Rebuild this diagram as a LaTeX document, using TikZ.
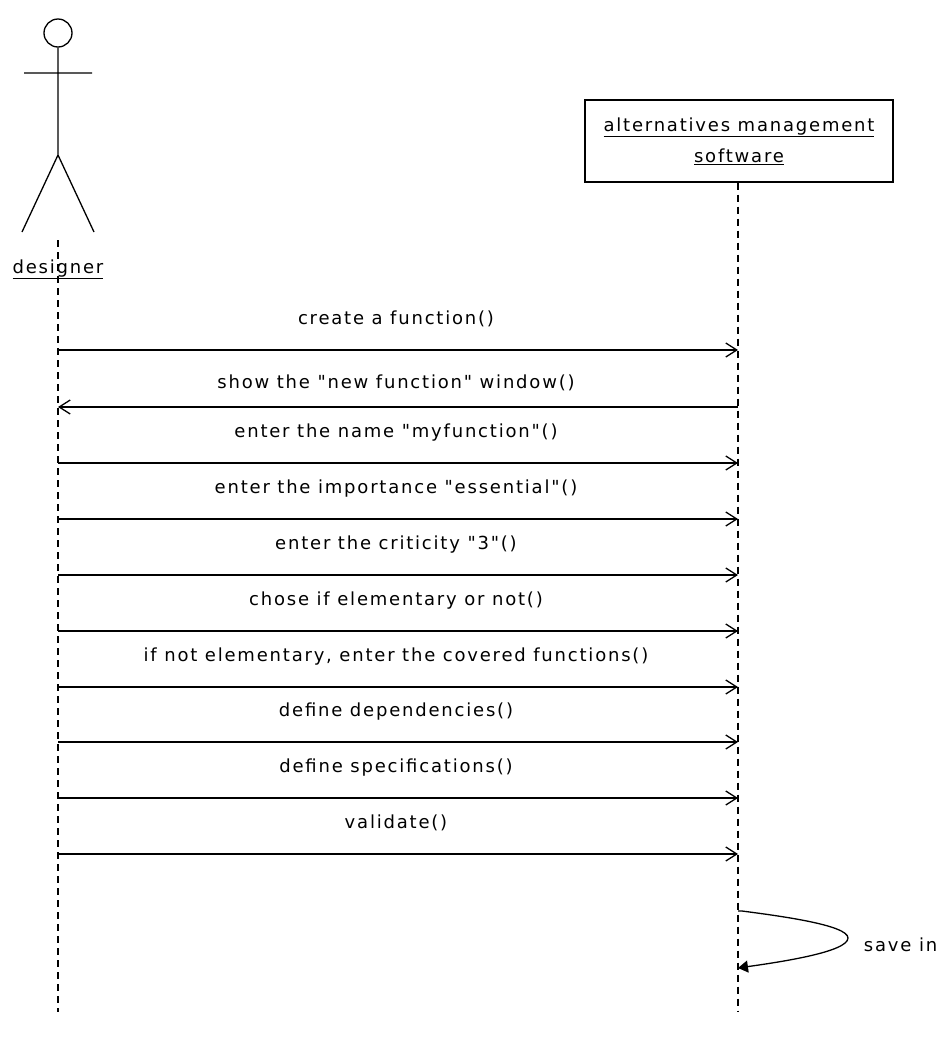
\documentclass[tikz,border=0pt]{standalone}
\usepackage{fontspec}
\setmainfont{DejaVu Sans}[Ligatures=TeXOff,LetterSpace=10]
\usetikzlibrary{arrows.meta}
\begin{document}
\begin{tikzpicture}[x=1pt,y=-1pt,line width=1.3pt,
  life/.style={dashed,dash pattern=on 7pt off 5pt},
  msg/.style={-{Straight Barb[length=11pt,width=14pt,line width=1.3pt]}},
  lbl/.style={font=\fontsize{18}{19}\selectfont,anchor=base}]
\useasboundingbox (0,0) rectangle (949,1042);
% actor
\node[draw,circle,minimum size=28pt,inner sep=0] (head) at (58,33) {};
\coordinate (hip) at (58,155);
\coordinate (la) at (24,73); \coordinate (ra) at (92,73);
\coordinate (ll) at (22,232); \coordinate (rl) at (94,232);
\draw (head.south) -- (hip) (la) -- (ra) (ll) -- (hip) -- (rl);
\node[lbl] (des) at (58,273) {\underline{designer}};
\coordinate (dtop) at (58,240); \coordinate (dbot) at (58,1012);
\draw[life] (dtop) -- (dbot);
% software
\node[draw,minimum width=308pt,minimum height=82pt,align=center,font=\fontsize{18}{31}\selectfont] (sw) at (739,141)
  {\underline{alternatives management}\\\underline{software}};
\coordinate (sbot) at (738,1012);
\draw[life] (sw.south) ++(-1,0) -- (sbot);
% messages
\foreach \y/\t [count=\i] in {
 350/{create a function()},
 463/{enter the name "myfunction"()},
 519/{enter the importance "essential"()},
 575/{enter the criticity "3"()},
 631/{chose if elementary or not()},
 687/{if not elementary, enter the covered functions()},
 742/{define dependencies()},
 798/{define specifications()},
 854/{validate()}}{
  \coordinate (a\i) at (58,\y); \coordinate (b\i) at (738,\y);
  \draw[msg] (a\i) -- (b\i);
  \node[lbl] (l\i) at (396,\y-26) {\t};
}
\coordinate (r1) at (738,407); \coordinate (r2) at (58,407);
\draw[msg] (r1) -- (r2);
\node[lbl] (lr) at (396,388) {show the "new function" window()};
% self message
\coordinate (s1) at (738,911); \coordinate (s2) at (738,968);
\draw[-{Triangle[length=10pt,width=12pt]}] (s1) -- (742,911) .. controls (780,916) and (848,925) .. (848,938) .. controls (848,952) and (780,962) .. (s2);
\node[lbl,anchor=west] (si) at (860,945) {save in};
\end{tikzpicture}
\end{document}
